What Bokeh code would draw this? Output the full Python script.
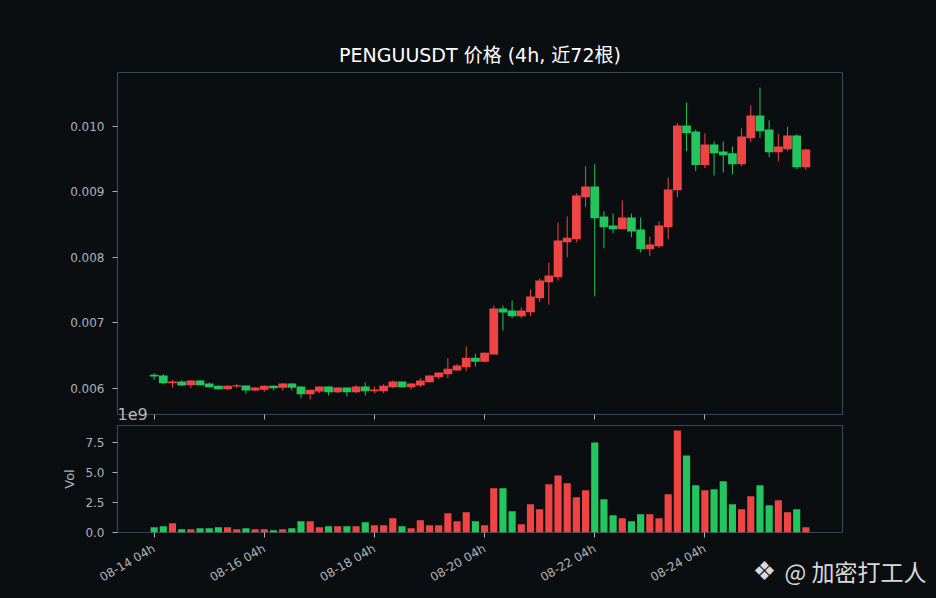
import numpy as np
from bokeh.plotting import figure
from bokeh.layouts import column
from bokeh.models import ColumnDataSource, FixedTicker, Range1d, Label, PrintfTickFormatter
from bokeh.embed import file_html
from bokeh.resources import INLINE

title_text = "PENGUUSDT 价格 (4h, 近72根)"
tick_pos = [0, 12, 24, 36, 48, 60]
tick_labels = ["08-14 04h", "08-16 04h", "08-18 04h", "08-20 04h", "08-22 04h", "08-24 04h"]
price_ticks = [0.006, 0.007, 0.008, 0.009, 0.010]
vol_ticks = [0.0, 2.5, 5.0, 7.5]
vol_offset_text = "1e9"
watermark_text = "@ 加密打工人"

opens = [0.006209, 0.006198, 0.006081, 0.006107, 0.006051, 0.006122, 0.006076, 0.006041,
         0.005990, 0.006030, 0.006046, 0.005970, 0.005980, 0.006041, 0.006010, 0.006076,
         0.006031, 0.005913, 0.005954, 0.006031, 0.005944, 0.006015, 0.005944, 0.006031,
         0.005959, 0.005959, 0.006020, 0.006107, 0.006020, 0.006046, 0.006097, 0.006173,
         0.006219, 0.006275, 0.006326, 0.006468, 0.006407, 0.006519, 0.007221, 0.007191,
         0.007104, 0.007165, 0.007379, 0.007623, 0.007700, 0.008234, 0.008280, 0.008921,
         0.009084, 0.008626, 0.008488, 0.008432, 0.008611, 0.008427, 0.008127, 0.008173,
         0.008463, 0.009028, 0.010015, 0.009924, 0.009410, 0.009725, 0.009618, 0.009593,
         0.009425, 0.009822, 0.010168, 0.009954, 0.009608, 0.009654, 0.009863, 0.009379]
closes = [0.006183, 0.006081, 0.006107, 0.006046, 0.006122, 0.006051, 0.006020, 0.005990,
          0.006041, 0.006050, 0.005970, 0.006015, 0.006041, 0.006005, 0.006076, 0.006010,
          0.005913, 0.005980, 0.006031, 0.005944, 0.006015, 0.005944, 0.006031, 0.005959,
          0.005985, 0.006041, 0.006107, 0.006020, 0.006076, 0.006122, 0.006198, 0.006244,
          0.006300, 0.006351, 0.006468, 0.006407, 0.006545, 0.007221, 0.007160, 0.007104,
          0.007191, 0.007405, 0.007649, 0.007725, 0.008260, 0.008300, 0.008947, 0.009084,
          0.008600, 0.008463, 0.008432, 0.008611, 0.008397, 0.008127, 0.008198, 0.008488,
          0.009038, 0.010015, 0.009898, 0.009410, 0.009725, 0.009593, 0.009562, 0.009425,
          0.009847, 0.010168, 0.009929, 0.009608, 0.009695, 0.009863, 0.009379, 0.009649]
highs = [0.006234, 0.006219, 0.006132, 0.006127, 0.006127, 0.006132, 0.006092, 0.006046,
         0.006051, 0.006071, 0.006046, 0.006020, 0.006046, 0.006046, 0.006081, 0.006081,
         0.006031, 0.005980, 0.006031, 0.006031, 0.006015, 0.006015, 0.006051, 0.006092,
         0.006031, 0.006066, 0.006122, 0.006107, 0.006076, 0.006158, 0.006198, 0.006244,
         0.006463, 0.006376, 0.006641, 0.006529, 0.006550, 0.007267, 0.007267, 0.007343,
         0.007237, 0.007511, 0.007680, 0.007924, 0.008534, 0.008626, 0.008982, 0.009394,
         0.009425, 0.008702, 0.008671, 0.008870, 0.008670, 0.008611, 0.008320, 0.008549,
         0.009221, 0.010050, 0.010366, 0.009954, 0.009893, 0.009771, 0.009771, 0.009695,
         0.009969, 0.010321, 0.010595, 0.010092, 0.009893, 0.009999, 0.009878, 0.009660]
lows = [0.006132, 0.006066, 0.006015, 0.006041, 0.006005, 0.006046, 0.006015, 0.005985,
        0.005980, 0.006005, 0.005919, 0.005959, 0.005949, 0.005970, 0.005970, 0.005970,
        0.005852, 0.005832, 0.005929, 0.005893, 0.005929, 0.005878, 0.005929, 0.005893,
        0.005929, 0.005929, 0.006005, 0.006010, 0.005985, 0.006020, 0.006090, 0.006142,
        0.006158, 0.006265, 0.006265, 0.006336, 0.006400, 0.006519, 0.006885, 0.007073,
        0.007073, 0.007104, 0.007318, 0.007282, 0.007649, 0.008005, 0.008230, 0.008768,
        0.007409, 0.008142, 0.008371, 0.008432, 0.008310, 0.008076, 0.008025, 0.008142,
        0.008280, 0.008921, 0.009623, 0.009318, 0.009364, 0.009252, 0.009298, 0.009267,
        0.009389, 0.009760, 0.009822, 0.009532, 0.009470, 0.009623, 0.009349, 0.009333]
volumes_1e9 = [0.44, 0.52, 0.77, 0.28, 0.28, 0.36, 0.36, 0.44, 0.44, 0.28, 0.36, 0.28, 0.28, 0.19, 0.28, 0.36,
               0.94, 0.94, 0.44, 0.52, 0.52, 0.52, 0.52, 0.85, 0.61, 0.61, 1.19, 0.52, 0.36, 1.02, 0.61, 0.61,
               1.60, 0.94, 1.68, 0.94, 0.61, 3.67, 3.67, 1.76, 0.69, 2.34, 1.93, 4.00, 4.74, 4.08, 2.92, 3.50,
               7.47, 2.76, 1.43, 1.19, 0.94, 1.52, 1.52, 1.19, 3.17, 8.46, 6.40, 3.92, 3.50, 3.58, 4.25, 2.34,
               1.93, 3.00, 3.92, 2.26, 2.67, 1.68, 1.93, 0.44]

BG = "#0b0e11"
UP = "#ef4444"
DOWN = "#22c55e"
FRAME = "#3d4451"
TXT = "#aeb1b6"
FONT = "DejaVu Sans"
W, H = 936, 598

idx = list(range(len(opens)))
colors = [UP if c >= o else DOWN for o, c in zip(opens, closes)]
src = ColumnDataSource(dict(
    x=idx, o=opens, c=closes, h=highs, l=lows,
    top=[max(o, c) for o, c in zip(opens, closes)],
    bot=[min(o, c) for o, c in zip(opens, closes)],
    vol=volumes_1e9, color=colors,
))

xr = Range1d(-3.99, 74.99)


def style(p):
    p.background_fill_color = BG
    p.border_fill_color = BG
    p.outline_line_color = FRAME
    p.outline_line_width = 1.2
    p.grid.visible = False
    for ax in [p.xaxis[0], p.yaxis[0]]:
        ax.axis_line_color = None
        ax.major_tick_line_color = TXT
        ax.major_tick_in = 0
        ax.major_tick_out = 5
        ax.minor_tick_line_color = None
        ax.major_label_text_color = TXT
        ax.major_label_text_font = FONT
        ax.major_label_text_font_size = "12px"
    p.yaxis[0].major_label_standoff = 8


p1 = figure(width=W, height=420, x_range=xr, y_range=Range1d(0.005603, 0.010824),
            output_backend="svg", toolbar_location=None,
            min_border_left=117, min_border_right=94, min_border_top=72, min_border_bottom=6)
style(p1)
p1.title.text = title_text
p1.title.align = "center"
p1.title.text_color = "#ffffff"
p1.title.text_font = "DejaVu Sans, Noto Sans CJK SC"
p1.title.text_font_size = "19px"
p1.title.text_font_style = "normal"
p1.title.standoff = 13
p1.segment(x0="x", y0="l", x1="x", y1="h", color="color", line_width=1, source=src)
p1.vbar(x="x", width=0.95, top="top", bottom="bot", fill_color="color", line_color=None, source=src)
p1.yaxis.ticker = FixedTicker(ticks=price_ticks)
p1.yaxis.formatter = PrintfTickFormatter(format="%.3f")
p1.xaxis.ticker = FixedTicker(ticks=tick_pos)
p1.xaxis.major_label_overrides = {t: "" for t in tick_pos}
p1.xaxis.major_label_standoff = 0

p2 = figure(width=W, height=178, x_range=xr, y_range=Range1d(0, 8.88),
            output_backend="svg", toolbar_location=None,
            min_border_left=117, min_border_right=94, min_border_top=5, min_border_bottom=66)
style(p2)
p2.vbar(x="x", width=0.78, top="vol", bottom=0, fill_color="color", line_color=None, source=src)
p2.yaxis.ticker = FixedTicker(ticks=vol_ticks)
p2.yaxis.formatter = PrintfTickFormatter(format="%.1f")
p2.yaxis.axis_label = "Vol"
p2.yaxis.axis_label_text_color = TXT
p2.yaxis.axis_label_text_font = FONT
p2.yaxis.axis_label_text_font_size = "13px"
p2.yaxis.axis_label_text_font_style = "normal"
p2.xaxis.ticker = FixedTicker(ticks=tick_pos)
p2.xaxis.major_label_overrides = {t: lab for t, lab in zip(tick_pos, tick_labels)}
p2.xaxis.major_label_orientation = np.pi / 6
p2.xaxis.major_label_standoff = 10

# transparent overlay figure (separate root) for texts that sit outside the plot frames
p3 = figure(width=W, height=H, x_range=Range1d(0, W), y_range=Range1d(0, H),
            output_backend="svg", toolbar_location=None, title=None,
            x_axis_location=None, y_axis_location=None,
            min_border=0, min_border_left=0, min_border_right=0, min_border_top=0, min_border_bottom=0)
p3.grid.visible = False
p3.outline_line_color = None
p3.background_fill_alpha = 0
p3.border_fill_alpha = 0
p3.margin = (-H, 0, 0, 0)
p3.add_layout(Label(x=117, y=H - 413, text=vol_offset_text,
                    text_color="#b4b6ba", text_font=FONT, text_font_size="16px",
                    text_baseline="middle", text_align="left"))
p3.add_layout(Label(x=926, y=H - 570, text=watermark_text,
                    text_color="#d9d9d9", text_font="Noto Sans CJK SC", text_font_size="23px",
                    text_baseline="middle", text_align="right"))
p3.add_layout(Label(x=764, y=H - 570, text="❖",
                    text_color="#d9d9d9", text_font="DejaVu Sans", text_font_size="26px",
                    text_baseline="middle", text_align="center"))

layout = column(p1, p2, spacing=0)
layout.styles = {"background-color": BG}

html = file_html([layout, p3], INLINE)
html = html.replace("<body>", '<body style="background-color:%s;">' % BG)
open("out.html", "w").write(html)
